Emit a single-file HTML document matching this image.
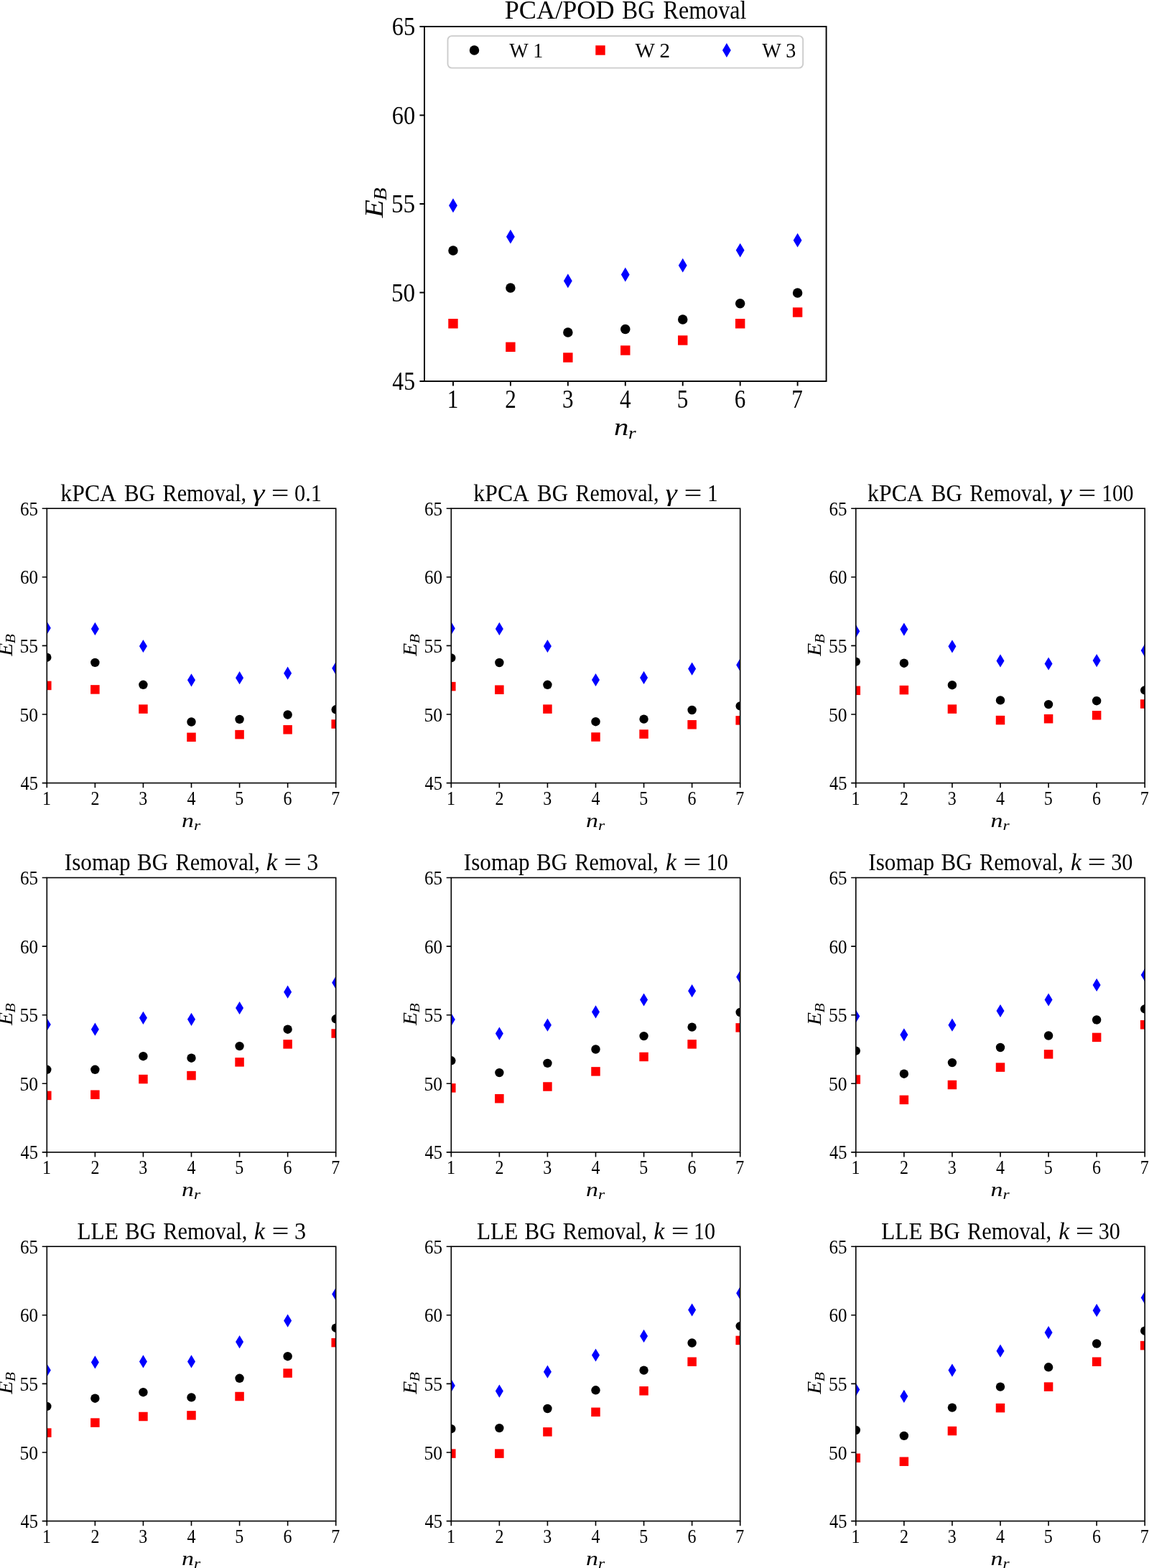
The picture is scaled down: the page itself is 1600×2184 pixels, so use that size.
<!DOCTYPE html>
<html><head><meta charset="utf-8"><title>BG Removal comparison</title>
<style>html,body{margin:0;padding:0;background:#fff;overflow:hidden;width:1600px;height:2184px;}svg{display:block;}</style>
</head><body>
<svg width="1600" height="2184" viewBox="0 0 1600 2184">
<rect width="100%" height="100%" fill="#ffffff"/>
<defs><clipPath id="ct"><rect x="591" y="37" width="559.6" height="494"/></clipPath><clipPath id="c00"><rect x="65.3" y="708.2" width="402.4" height="382.4"/></clipPath><clipPath id="c01"><rect x="628.3" y="708.2" width="402.4" height="382.4"/></clipPath><clipPath id="c02"><rect x="1191.8" y="708.2" width="402.4" height="382.4"/></clipPath><clipPath id="c10"><rect x="65.3" y="1222.5" width="402.4" height="382.4"/></clipPath><clipPath id="c11"><rect x="628.3" y="1222.5" width="402.4" height="382.4"/></clipPath><clipPath id="c12"><rect x="1191.8" y="1222.5" width="402.4" height="382.4"/></clipPath><clipPath id="c20"><rect x="65.3" y="1736.2" width="402.4" height="382.4"/></clipPath><clipPath id="c21"><rect x="628.3" y="1736.2" width="402.4" height="382.4"/></clipPath><clipPath id="c22"><rect x="1191.8" y="1736.2" width="402.4" height="382.4"/></clipPath></defs>
<g font-family="'Liberation Serif', 'DejaVu Serif', serif" fill="#000">
<g clip-path="url(#ct)">
<g fill="#000000"><circle cx="630.97" cy="348.9" r="6.75"/><circle cx="710.91" cy="401" r="6.75"/><circle cx="790.86" cy="463" r="6.75"/><circle cx="870.8" cy="458.6" r="6.75"/><circle cx="950.74" cy="445" r="6.75"/><circle cx="1030.69" cy="422.75" r="6.75"/><circle cx="1110.63" cy="407.9" r="6.75"/></g>
<g fill="#ff0000"><rect x="624.27" y="444.05" width="13.4" height="13.4"/><rect x="704.21" y="476.6" width="13.4" height="13.4"/><rect x="784.16" y="491.3" width="13.4" height="13.4"/><rect x="864.1" y="481.3" width="13.4" height="13.4"/><rect x="944.04" y="467.3" width="13.4" height="13.4"/><rect x="1023.99" y="444.05" width="13.4" height="13.4"/><rect x="1103.93" y="428.3" width="13.4" height="13.4"/></g>
<g fill="#0000ff"><path d="M630.97 276.35L636.87 286.25L630.97 296.15L625.07 286.25Z"/><path d="M710.91 319.75L716.81 329.65L710.91 339.55L705.01 329.65Z"/><path d="M790.86 381.35L796.76 391.25L790.86 401.15L784.96 391.25Z"/><path d="M870.8 372.6L876.7 382.5L870.8 392.4L864.9 382.5Z"/><path d="M950.74 359.8L956.64 369.7L950.74 379.6L944.84 369.7Z"/><path d="M1030.69 338.65L1036.59 348.55L1030.69 358.45L1024.79 348.55Z"/><path d="M1110.63 324.8L1116.53 334.7L1110.63 344.6L1104.73 334.7Z"/></g>
</g>
<rect x="623.5" y="50.1" width="494.7" height="44.5" rx="5.5" ry="5.5" fill="#fff" fill-opacity="0.8" stroke="#cccccc" stroke-width="1.9"/>
<g fill="#000000"><circle cx="660.5" cy="70" r="6.75"/></g>
<g fill="#ff0000"><rect x="829.3" y="63.3" width="13.4" height="13.4"/></g>
<g fill="#0000ff"><path d="M1011.9 60.1L1017.8 70L1011.9 79.9L1006 70Z"/></g>
<text x="709.25" y="79.8" font-size="29" textLength="47.07" lengthAdjust="spacingAndGlyphs">W 1</text>
<text x="884.4" y="79.8" font-size="29" textLength="48.72" lengthAdjust="spacingAndGlyphs">W 2</text>
<text x="1061.2" y="79.8" font-size="29" textLength="47.11" lengthAdjust="spacingAndGlyphs">W 3</text>
<rect x="591" y="37" width="559.6" height="494" fill="none" stroke="#000" stroke-width="1.9" stroke-linejoin="miter" stroke-linecap="square"/>
<path d="M630.97 531V537.6M710.91 531V537.6M790.86 531V537.6M870.8 531V537.6M950.74 531V537.6M1030.69 531V537.6M1110.63 531V537.6M591 531H584.4M591 407.5H584.4M591 284H584.4M591 160.5H584.4M591 37H584.4" stroke="#000" stroke-width="1.9" fill="none"/>
<text x="622.72" y="567.8" font-size="35" textLength="15.57" lengthAdjust="spacingAndGlyphs">1</text>
<text x="703.28" y="567.8" font-size="35" textLength="15.58" lengthAdjust="spacingAndGlyphs">2</text>
<text x="782.91" y="567.8" font-size="35" textLength="15.58" lengthAdjust="spacingAndGlyphs">3</text>
<text x="863.01" y="567.8" font-size="35" textLength="15.57" lengthAdjust="spacingAndGlyphs">4</text>
<text x="942.64" y="567.8" font-size="35" textLength="15.58" lengthAdjust="spacingAndGlyphs">5</text>
<text x="1022.74" y="567.8" font-size="35" textLength="15.57" lengthAdjust="spacingAndGlyphs">6</text>
<text x="1102.22" y="567.8" font-size="35" textLength="15.58" lengthAdjust="spacingAndGlyphs">7</text>
<text x="546.37" y="543.4" font-size="35" textLength="31.7" lengthAdjust="spacingAndGlyphs">45</text>
<text x="545.01" y="419.9" font-size="35" textLength="33.11" lengthAdjust="spacingAndGlyphs">50</text>
<text x="545.01" y="296.4" font-size="35" textLength="33.11" lengthAdjust="spacingAndGlyphs">55</text>
<text x="545.7" y="172.9" font-size="35" textLength="32.39" lengthAdjust="spacingAndGlyphs">60</text>
<text x="545.7" y="49.4" font-size="35" textLength="32.39" lengthAdjust="spacingAndGlyphs">65</text>
<text x="702.76" y="25.9" font-size="36" textLength="152.82" lengthAdjust="spacingAndGlyphs">PCA/POD</text>
<text x="866.21" y="25.9" font-size="36" textLength="45.75" lengthAdjust="spacingAndGlyphs">BG</text>
<text x="923.54" y="25.9" font-size="36" textLength="115.82" lengthAdjust="spacingAndGlyphs">Removal</text>
<text x="854.97" y="605.6" font-size="33.2" textLength="20.42" lengthAdjust="spacingAndGlyphs" font-style="italic">n</text>
<text x="874.9" y="610.6" font-size="23.8" textLength="10.68" lengthAdjust="spacingAndGlyphs" font-style="italic">r</text>
<text x="0" y="0" transform="translate(533,303.34) rotate(-90)" font-size="36.6" textLength="25.2" lengthAdjust="spacingAndGlyphs" font-style="italic">E</text>
<text x="0" y="0" transform="translate(538,279.29) rotate(-90)" font-size="26" textLength="17.91" lengthAdjust="spacingAndGlyphs" font-style="italic">B</text>
<g clip-path="url(#c00)">
<g fill="#000000"><circle cx="65.3" cy="915.7" r="6.2"/><circle cx="132.37" cy="922.9" r="6.2"/><circle cx="199.43" cy="953.8" r="6.2"/><circle cx="266.5" cy="1005.5" r="6.2"/><circle cx="333.57" cy="1001.9" r="6.2"/><circle cx="400.63" cy="995.5" r="6.2"/><circle cx="467.7" cy="988.3" r="6.2"/></g>
<g fill="#ff0000"><rect x="59.05" y="948.65" width="12.5" height="12.5"/><rect x="126.12" y="954.15" width="12.5" height="12.5"/><rect x="193.18" y="981.35" width="12.5" height="12.5"/><rect x="260.25" y="1020.55" width="12.5" height="12.5"/><rect x="327.32" y="1016.85" width="12.5" height="12.5"/><rect x="394.38" y="1010.05" width="12.5" height="12.5"/><rect x="461.45" y="1002.25" width="12.5" height="12.5"/></g>
<g fill="#0000ff"><path d="M65.3 865.6L70.8 874.7L65.3 883.8L59.8 874.7Z"/><path d="M132.37 866.8L137.87 875.9L132.37 885L126.87 875.9Z"/><path d="M199.43 890.9L204.93 900L199.43 909.1L193.93 900Z"/><path d="M266.5 938.2L272 947.3L266.5 956.4L261 947.3Z"/><path d="M333.57 935.05L339.07 944.15L333.57 953.25L328.07 944.15Z"/><path d="M400.63 928.6L406.13 937.7L400.63 946.8L395.13 937.7Z"/><path d="M467.7 921.7L473.2 930.8L467.7 939.9L462.2 930.8Z"/></g>
</g>
<rect x="65.3" y="708.2" width="402.4" height="382.4" fill="none" stroke="#000" stroke-width="1.6" stroke-linejoin="miter" stroke-linecap="square"/>
<path d="M65.3 1090.6V1097.2M132.37 1090.6V1097.2M199.43 1090.6V1097.2M266.5 1090.6V1097.2M333.57 1090.6V1097.2M400.63 1090.6V1097.2M467.7 1090.6V1097.2M65.3 1090.6H58.7M65.3 995H58.7M65.3 899.4H58.7M65.3 803.8H58.7M65.3 708.2H58.7" stroke="#000" stroke-width="1.6" fill="none"/>
<text x="58.93" y="1120.5" font-size="26.4" textLength="12.01" lengthAdjust="spacingAndGlyphs">1</text>
<text x="126.48" y="1120.5" font-size="26.4" textLength="12.01" lengthAdjust="spacingAndGlyphs">2</text>
<text x="193.31" y="1120.5" font-size="26.4" textLength="12.01" lengthAdjust="spacingAndGlyphs">3</text>
<text x="260.49" y="1120.5" font-size="26.4" textLength="12.01" lengthAdjust="spacingAndGlyphs">4</text>
<text x="327.32" y="1120.5" font-size="26.4" textLength="12.01" lengthAdjust="spacingAndGlyphs">5</text>
<text x="394.51" y="1120.5" font-size="26.4" textLength="12.01" lengthAdjust="spacingAndGlyphs">6</text>
<text x="461.21" y="1120.5" font-size="26.4" textLength="12.01" lengthAdjust="spacingAndGlyphs">7</text>
<text x="28.61" y="1100.1" font-size="26.4" textLength="24.47" lengthAdjust="spacingAndGlyphs">45</text>
<text x="27.57" y="1004.5" font-size="26.4" textLength="25.56" lengthAdjust="spacingAndGlyphs">50</text>
<text x="27.57" y="908.9" font-size="26.4" textLength="25.56" lengthAdjust="spacingAndGlyphs">55</text>
<text x="28.1" y="813.3" font-size="26.4" textLength="25" lengthAdjust="spacingAndGlyphs">60</text>
<text x="28.1" y="717.7" font-size="26.4" textLength="25" lengthAdjust="spacingAndGlyphs">65</text>
<text x="84.36" y="697.85" font-size="33.2" textLength="77.7" lengthAdjust="spacingAndGlyphs">kPCA</text>
<text x="173.07" y="697.85" font-size="33.2" textLength="43.03" lengthAdjust="spacingAndGlyphs">BG</text>
<text x="226.59" y="697.85" font-size="33.2" textLength="116.48" lengthAdjust="spacingAndGlyphs">Removal,</text>
<text x="351.65" y="697.85" font-size="33.2" textLength="16.65" lengthAdjust="spacingAndGlyphs" font-style="italic">γ</text>
<text x="377.81" y="697.85" font-size="33.2" textLength="24.72" lengthAdjust="spacingAndGlyphs">=</text>
<text x="410.03" y="697.85" font-size="33.2" textLength="38.04" lengthAdjust="spacingAndGlyphs">0.1</text>
<text x="253.09" y="1151.75" font-size="27.1" textLength="16.96" lengthAdjust="spacingAndGlyphs" font-style="italic">n</text>
<text x="270.01" y="1155.75" font-size="19.1" textLength="9.17" lengthAdjust="spacingAndGlyphs" font-style="italic">r</text>
<text x="0" y="0" transform="translate(16.8,913.7) rotate(-90)" font-size="26.3" textLength="18.07" lengthAdjust="spacingAndGlyphs" font-style="italic">E</text>
<text x="0" y="0" transform="translate(21,896.22) rotate(-90)" font-size="19.8" textLength="13.17" lengthAdjust="spacingAndGlyphs" font-style="italic">B</text>
<g clip-path="url(#c01)">
<g fill="#000000"><circle cx="628.3" cy="916.4" r="6.2"/><circle cx="695.37" cy="923" r="6.2"/><circle cx="762.43" cy="953.8" r="6.2"/><circle cx="829.5" cy="1005.2" r="6.2"/><circle cx="896.57" cy="1001.6" r="6.2"/><circle cx="963.63" cy="989" r="6.2"/><circle cx="1030.7" cy="983.4" r="6.2"/></g>
<g fill="#ff0000"><rect x="622.05" y="949.85" width="12.5" height="12.5"/><rect x="689.12" y="954.45" width="12.5" height="12.5"/><rect x="756.18" y="981.35" width="12.5" height="12.5"/><rect x="823.25" y="1020.25" width="12.5" height="12.5"/><rect x="890.32" y="1016.25" width="12.5" height="12.5"/><rect x="957.38" y="1003.05" width="12.5" height="12.5"/><rect x="1024.45" y="997.15" width="12.5" height="12.5"/></g>
<g fill="#0000ff"><path d="M628.3 866.1L633.8 875.2L628.3 884.3L622.8 875.2Z"/><path d="M695.37 866.8L700.87 875.9L695.37 885L689.87 875.9Z"/><path d="M762.43 890.9L767.93 900L762.43 909.1L756.93 900Z"/><path d="M829.5 937.9L835 947L829.5 956.1L824 947Z"/><path d="M896.57 934.8L902.07 943.9L896.57 953L891.07 943.9Z"/><path d="M963.63 922.5L969.13 931.6L963.63 940.7L958.13 931.6Z"/><path d="M1030.7 917.1L1036.2 926.2L1030.7 935.3L1025.2 926.2Z"/></g>
</g>
<rect x="628.3" y="708.2" width="402.4" height="382.4" fill="none" stroke="#000" stroke-width="1.6" stroke-linejoin="miter" stroke-linecap="square"/>
<path d="M628.3 1090.6V1097.2M695.37 1090.6V1097.2M762.43 1090.6V1097.2M829.5 1090.6V1097.2M896.57 1090.6V1097.2M963.63 1090.6V1097.2M1030.7 1090.6V1097.2M628.3 1090.6H621.7M628.3 995H621.7M628.3 899.4H621.7M628.3 803.8H621.7M628.3 708.2H621.7" stroke="#000" stroke-width="1.6" fill="none"/>
<text x="621.93" y="1120.5" font-size="26.4" textLength="12.01" lengthAdjust="spacingAndGlyphs">1</text>
<text x="689.48" y="1120.5" font-size="26.4" textLength="12.01" lengthAdjust="spacingAndGlyphs">2</text>
<text x="756.31" y="1120.5" font-size="26.4" textLength="12.01" lengthAdjust="spacingAndGlyphs">3</text>
<text x="823.49" y="1120.5" font-size="26.4" textLength="12.01" lengthAdjust="spacingAndGlyphs">4</text>
<text x="890.32" y="1120.5" font-size="26.4" textLength="12.01" lengthAdjust="spacingAndGlyphs">5</text>
<text x="957.51" y="1120.5" font-size="26.4" textLength="12.01" lengthAdjust="spacingAndGlyphs">6</text>
<text x="1024.21" y="1120.5" font-size="26.4" textLength="12.01" lengthAdjust="spacingAndGlyphs">7</text>
<text x="591.61" y="1100.1" font-size="26.4" textLength="24.47" lengthAdjust="spacingAndGlyphs">45</text>
<text x="590.57" y="1004.5" font-size="26.4" textLength="25.56" lengthAdjust="spacingAndGlyphs">50</text>
<text x="590.57" y="908.9" font-size="26.4" textLength="25.56" lengthAdjust="spacingAndGlyphs">55</text>
<text x="591.1" y="813.3" font-size="26.4" textLength="25" lengthAdjust="spacingAndGlyphs">60</text>
<text x="591.1" y="717.7" font-size="26.4" textLength="25" lengthAdjust="spacingAndGlyphs">65</text>
<text x="659.36" y="697.85" font-size="33.2" textLength="77.7" lengthAdjust="spacingAndGlyphs">kPCA</text>
<text x="748.07" y="697.85" font-size="33.2" textLength="43.03" lengthAdjust="spacingAndGlyphs">BG</text>
<text x="801.6" y="697.85" font-size="33.2" textLength="115.81" lengthAdjust="spacingAndGlyphs">Removal,</text>
<text x="926.69" y="697.85" font-size="33.2" textLength="16.01" lengthAdjust="spacingAndGlyphs" font-style="italic">γ</text>
<text x="952.53" y="697.85" font-size="33.2" textLength="25.02" lengthAdjust="spacingAndGlyphs">=</text>
<text x="985.09" y="697.85" font-size="33.2" textLength="14.79" lengthAdjust="spacingAndGlyphs">1</text>
<text x="816.09" y="1151.75" font-size="27.1" textLength="16.96" lengthAdjust="spacingAndGlyphs" font-style="italic">n</text>
<text x="833.01" y="1155.75" font-size="19.1" textLength="9.17" lengthAdjust="spacingAndGlyphs" font-style="italic">r</text>
<text x="0" y="0" transform="translate(579.8,913.7) rotate(-90)" font-size="26.3" textLength="18.07" lengthAdjust="spacingAndGlyphs" font-style="italic">E</text>
<text x="0" y="0" transform="translate(584,896.22) rotate(-90)" font-size="19.8" textLength="13.17" lengthAdjust="spacingAndGlyphs" font-style="italic">B</text>
<g clip-path="url(#c02)">
<g fill="#000000"><circle cx="1191.8" cy="921.6" r="6.2"/><circle cx="1258.87" cy="923.7" r="6.2"/><circle cx="1325.93" cy="954.2" r="6.2"/><circle cx="1393" cy="975.4" r="6.2"/><circle cx="1460.07" cy="981.1" r="6.2"/><circle cx="1527.13" cy="976.2" r="6.2"/><circle cx="1594.2" cy="961.4" r="6.2"/></g>
<g fill="#ff0000"><rect x="1185.55" y="955.55" width="12.5" height="12.5"/><rect x="1252.62" y="954.85" width="12.5" height="12.5"/><rect x="1319.68" y="981.35" width="12.5" height="12.5"/><rect x="1386.75" y="996.85" width="12.5" height="12.5"/><rect x="1453.82" y="994.95" width="12.5" height="12.5"/><rect x="1520.88" y="990.05" width="12.5" height="12.5"/><rect x="1587.95" y="974.25" width="12.5" height="12.5"/></g>
<g fill="#0000ff"><path d="M1191.8 870.1L1197.3 879.2L1191.8 888.3L1186.3 879.2Z"/><path d="M1258.87 867.5L1264.37 876.6L1258.87 885.7L1253.37 876.6Z"/><path d="M1325.93 891.2L1331.43 900.3L1325.93 909.4L1320.43 900.3Z"/><path d="M1393 911.3L1398.5 920.4L1393 929.5L1387.5 920.4Z"/><path d="M1460.07 915.4L1465.57 924.5L1460.07 933.6L1454.57 924.5Z"/><path d="M1527.13 911L1532.63 920.1L1527.13 929.2L1521.63 920.1Z"/><path d="M1594.2 897L1599.7 906.1L1594.2 915.2L1588.7 906.1Z"/></g>
</g>
<rect x="1191.8" y="708.2" width="402.4" height="382.4" fill="none" stroke="#000" stroke-width="1.6" stroke-linejoin="miter" stroke-linecap="square"/>
<path d="M1191.8 1090.6V1097.2M1258.87 1090.6V1097.2M1325.93 1090.6V1097.2M1393 1090.6V1097.2M1460.07 1090.6V1097.2M1527.13 1090.6V1097.2M1594.2 1090.6V1097.2M1191.8 1090.6H1185.2M1191.8 995H1185.2M1191.8 899.4H1185.2M1191.8 803.8H1185.2M1191.8 708.2H1185.2" stroke="#000" stroke-width="1.6" fill="none"/>
<text x="1185.43" y="1120.5" font-size="26.4" textLength="12.01" lengthAdjust="spacingAndGlyphs">1</text>
<text x="1252.98" y="1120.5" font-size="26.4" textLength="12.01" lengthAdjust="spacingAndGlyphs">2</text>
<text x="1319.81" y="1120.5" font-size="26.4" textLength="12.01" lengthAdjust="spacingAndGlyphs">3</text>
<text x="1386.99" y="1120.5" font-size="26.4" textLength="12.01" lengthAdjust="spacingAndGlyphs">4</text>
<text x="1453.82" y="1120.5" font-size="26.4" textLength="12.01" lengthAdjust="spacingAndGlyphs">5</text>
<text x="1521.01" y="1120.5" font-size="26.4" textLength="12.01" lengthAdjust="spacingAndGlyphs">6</text>
<text x="1587.71" y="1120.5" font-size="26.4" textLength="12.01" lengthAdjust="spacingAndGlyphs">7</text>
<text x="1155.11" y="1100.1" font-size="26.4" textLength="24.47" lengthAdjust="spacingAndGlyphs">45</text>
<text x="1154.07" y="1004.5" font-size="26.4" textLength="25.56" lengthAdjust="spacingAndGlyphs">50</text>
<text x="1154.07" y="908.9" font-size="26.4" textLength="25.56" lengthAdjust="spacingAndGlyphs">55</text>
<text x="1154.6" y="813.3" font-size="26.4" textLength="25" lengthAdjust="spacingAndGlyphs">60</text>
<text x="1154.6" y="717.7" font-size="26.4" textLength="25" lengthAdjust="spacingAndGlyphs">65</text>
<text x="1208.11" y="697.85" font-size="33.2" textLength="77.7" lengthAdjust="spacingAndGlyphs">kPCA</text>
<text x="1296.82" y="697.85" font-size="33.2" textLength="43.03" lengthAdjust="spacingAndGlyphs">BG</text>
<text x="1350.35" y="697.85" font-size="33.2" textLength="115.87" lengthAdjust="spacingAndGlyphs">Removal,</text>
<text x="1475.41" y="697.85" font-size="33.2" textLength="16.6" lengthAdjust="spacingAndGlyphs" font-style="italic">γ</text>
<text x="1501.55" y="697.85" font-size="33.2" textLength="24.78" lengthAdjust="spacingAndGlyphs">=</text>
<text x="1534.25" y="697.85" font-size="33.2" textLength="44.18" lengthAdjust="spacingAndGlyphs">100</text>
<text x="1379.59" y="1151.75" font-size="27.1" textLength="16.96" lengthAdjust="spacingAndGlyphs" font-style="italic">n</text>
<text x="1396.51" y="1155.75" font-size="19.1" textLength="9.17" lengthAdjust="spacingAndGlyphs" font-style="italic">r</text>
<text x="0" y="0" transform="translate(1143.3,913.7) rotate(-90)" font-size="26.3" textLength="18.07" lengthAdjust="spacingAndGlyphs" font-style="italic">E</text>
<text x="0" y="0" transform="translate(1147.5,896.22) rotate(-90)" font-size="19.8" textLength="13.17" lengthAdjust="spacingAndGlyphs" font-style="italic">B</text>
<g clip-path="url(#c10)">
<g fill="#000000"><circle cx="65.3" cy="1489.8" r="6.2"/><circle cx="132.37" cy="1489.8" r="6.2"/><circle cx="199.43" cy="1471.2" r="6.2"/><circle cx="266.5" cy="1473.7" r="6.2"/><circle cx="333.57" cy="1457.1" r="6.2"/><circle cx="400.63" cy="1433.7" r="6.2"/><circle cx="467.7" cy="1419.3" r="6.2"/></g>
<g fill="#ff0000"><rect x="59.05" y="1519.65" width="12.5" height="12.5"/><rect x="126.12" y="1518.45" width="12.5" height="12.5"/><rect x="193.18" y="1496.85" width="12.5" height="12.5"/><rect x="260.25" y="1491.85" width="12.5" height="12.5"/><rect x="327.32" y="1473.15" width="12.5" height="12.5"/><rect x="394.38" y="1448.15" width="12.5" height="12.5"/><rect x="461.45" y="1433.25" width="12.5" height="12.5"/></g>
<g fill="#0000ff"><path d="M65.3 1417.9L70.8 1427L65.3 1436.1L59.8 1427Z"/><path d="M132.37 1424.6L137.87 1433.7L132.37 1442.8L126.87 1433.7Z"/><path d="M199.43 1408.7L204.93 1417.8L199.43 1426.9L193.93 1417.8Z"/><path d="M266.5 1410.7L272 1419.8L266.5 1428.9L261 1419.8Z"/><path d="M333.57 1394.9L339.07 1404L333.57 1413.1L328.07 1404Z"/><path d="M400.63 1372.6L406.13 1381.7L400.63 1390.8L395.13 1381.7Z"/><path d="M467.7 1359.6L473.2 1368.7L467.7 1377.8L462.2 1368.7Z"/></g>
</g>
<rect x="65.3" y="1222.5" width="402.4" height="382.4" fill="none" stroke="#000" stroke-width="1.6" stroke-linejoin="miter" stroke-linecap="square"/>
<path d="M65.3 1604.9V1611.5M132.37 1604.9V1611.5M199.43 1604.9V1611.5M266.5 1604.9V1611.5M333.57 1604.9V1611.5M400.63 1604.9V1611.5M467.7 1604.9V1611.5M65.3 1604.9H58.7M65.3 1509.3H58.7M65.3 1413.7H58.7M65.3 1318.1H58.7M65.3 1222.5H58.7" stroke="#000" stroke-width="1.6" fill="none"/>
<text x="58.93" y="1634.8" font-size="26.4" textLength="12.01" lengthAdjust="spacingAndGlyphs">1</text>
<text x="126.48" y="1634.8" font-size="26.4" textLength="12.01" lengthAdjust="spacingAndGlyphs">2</text>
<text x="193.31" y="1634.8" font-size="26.4" textLength="12.01" lengthAdjust="spacingAndGlyphs">3</text>
<text x="260.49" y="1634.8" font-size="26.4" textLength="12.01" lengthAdjust="spacingAndGlyphs">4</text>
<text x="327.32" y="1634.8" font-size="26.4" textLength="12.01" lengthAdjust="spacingAndGlyphs">5</text>
<text x="394.51" y="1634.8" font-size="26.4" textLength="12.01" lengthAdjust="spacingAndGlyphs">6</text>
<text x="461.21" y="1634.8" font-size="26.4" textLength="12.01" lengthAdjust="spacingAndGlyphs">7</text>
<text x="28.61" y="1614.4" font-size="26.4" textLength="24.47" lengthAdjust="spacingAndGlyphs">45</text>
<text x="27.57" y="1518.8" font-size="26.4" textLength="25.56" lengthAdjust="spacingAndGlyphs">50</text>
<text x="27.57" y="1423.2" font-size="26.4" textLength="25.56" lengthAdjust="spacingAndGlyphs">55</text>
<text x="28.1" y="1327.6" font-size="26.4" textLength="25" lengthAdjust="spacingAndGlyphs">60</text>
<text x="28.1" y="1232" font-size="26.4" textLength="25" lengthAdjust="spacingAndGlyphs">65</text>
<text x="89.75" y="1212.15" font-size="33.2" textLength="91.91" lengthAdjust="spacingAndGlyphs">Isomap</text>
<text x="191.07" y="1212.15" font-size="33.2" textLength="43.09" lengthAdjust="spacingAndGlyphs">BG</text>
<text x="244.49" y="1212.15" font-size="33.2" textLength="117.35" lengthAdjust="spacingAndGlyphs">Removal,</text>
<text x="370.85" y="1212.15" font-size="33.2" textLength="15.49" lengthAdjust="spacingAndGlyphs" font-style="italic">k</text>
<text x="395.31" y="1212.15" font-size="33.2" textLength="24.72" lengthAdjust="spacingAndGlyphs">=</text>
<text x="427.15" y="1212.15" font-size="33.2" textLength="16.04" lengthAdjust="spacingAndGlyphs">3</text>
<text x="253.09" y="1666.05" font-size="27.1" textLength="16.96" lengthAdjust="spacingAndGlyphs" font-style="italic">n</text>
<text x="270.01" y="1670.05" font-size="19.1" textLength="9.17" lengthAdjust="spacingAndGlyphs" font-style="italic">r</text>
<text x="0" y="0" transform="translate(16.8,1428) rotate(-90)" font-size="26.3" textLength="18.07" lengthAdjust="spacingAndGlyphs" font-style="italic">E</text>
<text x="0" y="0" transform="translate(21,1410.52) rotate(-90)" font-size="19.8" textLength="13.17" lengthAdjust="spacingAndGlyphs" font-style="italic">B</text>
<g clip-path="url(#c11)">
<g fill="#000000"><circle cx="628.3" cy="1477.3" r="6.2"/><circle cx="695.37" cy="1494.1" r="6.2"/><circle cx="762.43" cy="1480.9" r="6.2"/><circle cx="829.5" cy="1461.5" r="6.2"/><circle cx="896.57" cy="1443.1" r="6.2"/><circle cx="963.63" cy="1430.6" r="6.2"/><circle cx="1030.7" cy="1410" r="6.2"/></g>
<g fill="#ff0000"><rect x="622.05" y="1509.15" width="12.5" height="12.5"/><rect x="689.12" y="1523.95" width="12.5" height="12.5"/><rect x="756.18" y="1507.25" width="12.5" height="12.5"/><rect x="823.25" y="1486.15" width="12.5" height="12.5"/><rect x="890.32" y="1465.75" width="12.5" height="12.5"/><rect x="957.38" y="1448.15" width="12.5" height="12.5"/><rect x="1024.45" y="1425.15" width="12.5" height="12.5"/></g>
<g fill="#0000ff"><path d="M628.3 1411L633.8 1420.1L628.3 1429.2L622.8 1420.1Z"/><path d="M695.37 1430.5L700.87 1439.6L695.37 1448.7L689.87 1439.6Z"/><path d="M762.43 1418.6L767.93 1427.7L762.43 1436.8L756.93 1427.7Z"/><path d="M829.5 1400.3L835 1409.4L829.5 1418.5L824 1409.4Z"/><path d="M896.57 1383.4L902.07 1392.5L896.57 1401.6L891.07 1392.5Z"/><path d="M963.63 1371.1L969.13 1380.2L963.63 1389.3L958.13 1380.2Z"/><path d="M1030.7 1351.7L1036.2 1360.8L1030.7 1369.9L1025.2 1360.8Z"/></g>
</g>
<rect x="628.3" y="1222.5" width="402.4" height="382.4" fill="none" stroke="#000" stroke-width="1.6" stroke-linejoin="miter" stroke-linecap="square"/>
<path d="M628.3 1604.9V1611.5M695.37 1604.9V1611.5M762.43 1604.9V1611.5M829.5 1604.9V1611.5M896.57 1604.9V1611.5M963.63 1604.9V1611.5M1030.7 1604.9V1611.5M628.3 1604.9H621.7M628.3 1509.3H621.7M628.3 1413.7H621.7M628.3 1318.1H621.7M628.3 1222.5H621.7" stroke="#000" stroke-width="1.6" fill="none"/>
<text x="621.93" y="1634.8" font-size="26.4" textLength="12.01" lengthAdjust="spacingAndGlyphs">1</text>
<text x="689.48" y="1634.8" font-size="26.4" textLength="12.01" lengthAdjust="spacingAndGlyphs">2</text>
<text x="756.31" y="1634.8" font-size="26.4" textLength="12.01" lengthAdjust="spacingAndGlyphs">3</text>
<text x="823.49" y="1634.8" font-size="26.4" textLength="12.01" lengthAdjust="spacingAndGlyphs">4</text>
<text x="890.32" y="1634.8" font-size="26.4" textLength="12.01" lengthAdjust="spacingAndGlyphs">5</text>
<text x="957.51" y="1634.8" font-size="26.4" textLength="12.01" lengthAdjust="spacingAndGlyphs">6</text>
<text x="1024.21" y="1634.8" font-size="26.4" textLength="12.01" lengthAdjust="spacingAndGlyphs">7</text>
<text x="591.61" y="1614.4" font-size="26.4" textLength="24.47" lengthAdjust="spacingAndGlyphs">45</text>
<text x="590.57" y="1518.8" font-size="26.4" textLength="25.56" lengthAdjust="spacingAndGlyphs">50</text>
<text x="590.57" y="1423.2" font-size="26.4" textLength="25.56" lengthAdjust="spacingAndGlyphs">55</text>
<text x="591.1" y="1327.6" font-size="26.4" textLength="25" lengthAdjust="spacingAndGlyphs">60</text>
<text x="591.1" y="1232" font-size="26.4" textLength="25" lengthAdjust="spacingAndGlyphs">65</text>
<text x="645.75" y="1212.15" font-size="33.2" textLength="91.91" lengthAdjust="spacingAndGlyphs">Isomap</text>
<text x="747.07" y="1212.15" font-size="33.2" textLength="43.09" lengthAdjust="spacingAndGlyphs">BG</text>
<text x="800.5" y="1212.15" font-size="33.2" textLength="116.33" lengthAdjust="spacingAndGlyphs">Removal,</text>
<text x="927.1" y="1212.15" font-size="33.2" textLength="14.87" lengthAdjust="spacingAndGlyphs" font-style="italic">k</text>
<text x="951.55" y="1212.15" font-size="33.2" textLength="24.78" lengthAdjust="spacingAndGlyphs">=</text>
<text x="983.78" y="1212.15" font-size="33.2" textLength="30.17" lengthAdjust="spacingAndGlyphs">10</text>
<text x="816.09" y="1666.05" font-size="27.1" textLength="16.96" lengthAdjust="spacingAndGlyphs" font-style="italic">n</text>
<text x="833.01" y="1670.05" font-size="19.1" textLength="9.17" lengthAdjust="spacingAndGlyphs" font-style="italic">r</text>
<text x="0" y="0" transform="translate(579.8,1428) rotate(-90)" font-size="26.3" textLength="18.07" lengthAdjust="spacingAndGlyphs" font-style="italic">E</text>
<text x="0" y="0" transform="translate(584,1410.52) rotate(-90)" font-size="19.8" textLength="13.17" lengthAdjust="spacingAndGlyphs" font-style="italic">B</text>
<g clip-path="url(#c12)">
<g fill="#000000"><circle cx="1191.8" cy="1463.6" r="6.2"/><circle cx="1258.87" cy="1495.7" r="6.2"/><circle cx="1325.93" cy="1480.1" r="6.2"/><circle cx="1393" cy="1459" r="6.2"/><circle cx="1460.07" cy="1442.5" r="6.2"/><circle cx="1527.13" cy="1420.5" r="6.2"/><circle cx="1594.2" cy="1405.4" r="6.2"/></g>
<g fill="#ff0000"><rect x="1185.55" y="1497.35" width="12.5" height="12.5"/><rect x="1252.62" y="1525.65" width="12.5" height="12.5"/><rect x="1319.68" y="1504.75" width="12.5" height="12.5"/><rect x="1386.75" y="1480.35" width="12.5" height="12.5"/><rect x="1453.82" y="1462.15" width="12.5" height="12.5"/><rect x="1520.88" y="1438.65" width="12.5" height="12.5"/><rect x="1587.95" y="1421.05" width="12.5" height="12.5"/></g>
<g fill="#0000ff"><path d="M1191.8 1406.4L1197.3 1415.5L1191.8 1424.6L1186.3 1415.5Z"/><path d="M1258.87 1432.2L1264.37 1441.3L1258.87 1450.4L1253.37 1441.3Z"/><path d="M1325.93 1418.6L1331.43 1427.7L1325.93 1436.8L1320.43 1427.7Z"/><path d="M1393 1398.9L1398.5 1408L1393 1417.1L1387.5 1408Z"/><path d="M1460.07 1383.4L1465.57 1392.5L1460.07 1401.6L1454.57 1392.5Z"/><path d="M1527.13 1362.8L1532.63 1371.9L1527.13 1381L1521.63 1371.9Z"/><path d="M1594.2 1348.9L1599.7 1358L1594.2 1367.1L1588.7 1358Z"/></g>
</g>
<rect x="1191.8" y="1222.5" width="402.4" height="382.4" fill="none" stroke="#000" stroke-width="1.6" stroke-linejoin="miter" stroke-linecap="square"/>
<path d="M1191.8 1604.9V1611.5M1258.87 1604.9V1611.5M1325.93 1604.9V1611.5M1393 1604.9V1611.5M1460.07 1604.9V1611.5M1527.13 1604.9V1611.5M1594.2 1604.9V1611.5M1191.8 1604.9H1185.2M1191.8 1509.3H1185.2M1191.8 1413.7H1185.2M1191.8 1318.1H1185.2M1191.8 1222.5H1185.2" stroke="#000" stroke-width="1.6" fill="none"/>
<text x="1185.43" y="1634.8" font-size="26.4" textLength="12.01" lengthAdjust="spacingAndGlyphs">1</text>
<text x="1252.98" y="1634.8" font-size="26.4" textLength="12.01" lengthAdjust="spacingAndGlyphs">2</text>
<text x="1319.81" y="1634.8" font-size="26.4" textLength="12.01" lengthAdjust="spacingAndGlyphs">3</text>
<text x="1386.99" y="1634.8" font-size="26.4" textLength="12.01" lengthAdjust="spacingAndGlyphs">4</text>
<text x="1453.82" y="1634.8" font-size="26.4" textLength="12.01" lengthAdjust="spacingAndGlyphs">5</text>
<text x="1521.01" y="1634.8" font-size="26.4" textLength="12.01" lengthAdjust="spacingAndGlyphs">6</text>
<text x="1587.71" y="1634.8" font-size="26.4" textLength="12.01" lengthAdjust="spacingAndGlyphs">7</text>
<text x="1155.11" y="1614.4" font-size="26.4" textLength="24.47" lengthAdjust="spacingAndGlyphs">45</text>
<text x="1154.07" y="1518.8" font-size="26.4" textLength="25.56" lengthAdjust="spacingAndGlyphs">50</text>
<text x="1154.07" y="1423.2" font-size="26.4" textLength="25.56" lengthAdjust="spacingAndGlyphs">55</text>
<text x="1154.6" y="1327.6" font-size="26.4" textLength="25" lengthAdjust="spacingAndGlyphs">60</text>
<text x="1154.6" y="1232" font-size="26.4" textLength="25" lengthAdjust="spacingAndGlyphs">65</text>
<text x="1209.25" y="1212.15" font-size="33.2" textLength="91.91" lengthAdjust="spacingAndGlyphs">Isomap</text>
<text x="1310.57" y="1212.15" font-size="33.2" textLength="43.09" lengthAdjust="spacingAndGlyphs">BG</text>
<text x="1363.99" y="1212.15" font-size="33.2" textLength="116.84" lengthAdjust="spacingAndGlyphs">Removal,</text>
<text x="1490.9" y="1212.15" font-size="33.2" textLength="14.81" lengthAdjust="spacingAndGlyphs" font-style="italic">k</text>
<text x="1514.64" y="1212.15" font-size="33.2" textLength="25.44" lengthAdjust="spacingAndGlyphs">=</text>
<text x="1547.24" y="1212.15" font-size="33.2" textLength="30.22" lengthAdjust="spacingAndGlyphs">30</text>
<text x="1379.59" y="1666.05" font-size="27.1" textLength="16.96" lengthAdjust="spacingAndGlyphs" font-style="italic">n</text>
<text x="1396.51" y="1670.05" font-size="19.1" textLength="9.17" lengthAdjust="spacingAndGlyphs" font-style="italic">r</text>
<text x="0" y="0" transform="translate(1143.3,1428) rotate(-90)" font-size="26.3" textLength="18.07" lengthAdjust="spacingAndGlyphs" font-style="italic">E</text>
<text x="0" y="0" transform="translate(1147.5,1410.52) rotate(-90)" font-size="19.8" textLength="13.17" lengthAdjust="spacingAndGlyphs" font-style="italic">B</text>
<g clip-path="url(#c20)">
<g fill="#000000"><circle cx="65.3" cy="1958.9" r="6.2"/><circle cx="132.37" cy="1947.7" r="6.2"/><circle cx="199.43" cy="1939.2" r="6.2"/><circle cx="266.5" cy="1946.4" r="6.2"/><circle cx="333.57" cy="1919.8" r="6.2"/><circle cx="400.63" cy="1889.2" r="6.2"/><circle cx="467.7" cy="1849.7" r="6.2"/></g>
<g fill="#ff0000"><rect x="59.05" y="1989.35" width="12.5" height="12.5"/><rect x="126.12" y="1975.35" width="12.5" height="12.5"/><rect x="193.18" y="1966.75" width="12.5" height="12.5"/><rect x="260.25" y="1965.15" width="12.5" height="12.5"/><rect x="327.32" y="1938.75" width="12.5" height="12.5"/><rect x="394.38" y="1906.35" width="12.5" height="12.5"/><rect x="461.45" y="1863.85" width="12.5" height="12.5"/></g>
<g fill="#0000ff"><path d="M65.3 1899.5L70.8 1908.6L65.3 1917.7L59.8 1908.6Z"/><path d="M132.37 1888.3L137.87 1897.4L132.37 1906.5L126.87 1897.4Z"/><path d="M199.43 1887.3L204.93 1896.4L199.43 1905.5L193.93 1896.4Z"/><path d="M266.5 1887.3L272 1896.4L266.5 1905.5L261 1896.4Z"/><path d="M333.57 1860L339.07 1869.1L333.57 1878.2L328.07 1869.1Z"/><path d="M400.63 1830.5L406.13 1839.6L400.63 1848.7L395.13 1839.6Z"/><path d="M467.7 1793.5L473.2 1802.6L467.7 1811.7L462.2 1802.6Z"/></g>
</g>
<rect x="65.3" y="1736.2" width="402.4" height="382.4" fill="none" stroke="#000" stroke-width="1.6" stroke-linejoin="miter" stroke-linecap="square"/>
<path d="M65.3 2118.6V2125.2M132.37 2118.6V2125.2M199.43 2118.6V2125.2M266.5 2118.6V2125.2M333.57 2118.6V2125.2M400.63 2118.6V2125.2M467.7 2118.6V2125.2M65.3 2118.6H58.7M65.3 2023H58.7M65.3 1927.4H58.7M65.3 1831.8H58.7M65.3 1736.2H58.7" stroke="#000" stroke-width="1.6" fill="none"/>
<text x="58.93" y="2148.5" font-size="26.4" textLength="12.01" lengthAdjust="spacingAndGlyphs">1</text>
<text x="126.48" y="2148.5" font-size="26.4" textLength="12.01" lengthAdjust="spacingAndGlyphs">2</text>
<text x="193.31" y="2148.5" font-size="26.4" textLength="12.01" lengthAdjust="spacingAndGlyphs">3</text>
<text x="260.49" y="2148.5" font-size="26.4" textLength="12.01" lengthAdjust="spacingAndGlyphs">4</text>
<text x="327.32" y="2148.5" font-size="26.4" textLength="12.01" lengthAdjust="spacingAndGlyphs">5</text>
<text x="394.51" y="2148.5" font-size="26.4" textLength="12.01" lengthAdjust="spacingAndGlyphs">6</text>
<text x="461.21" y="2148.5" font-size="26.4" textLength="12.01" lengthAdjust="spacingAndGlyphs">7</text>
<text x="28.61" y="2128.1" font-size="26.4" textLength="24.47" lengthAdjust="spacingAndGlyphs">45</text>
<text x="27.57" y="2032.5" font-size="26.4" textLength="25.56" lengthAdjust="spacingAndGlyphs">50</text>
<text x="27.57" y="1936.9" font-size="26.4" textLength="25.56" lengthAdjust="spacingAndGlyphs">55</text>
<text x="28.1" y="1841.3" font-size="26.4" textLength="25" lengthAdjust="spacingAndGlyphs">60</text>
<text x="28.1" y="1745.7" font-size="26.4" textLength="25" lengthAdjust="spacingAndGlyphs">65</text>
<text x="107.56" y="1725.85" font-size="33.2" textLength="57.18" lengthAdjust="spacingAndGlyphs">LLE</text>
<text x="174.07" y="1725.85" font-size="33.2" textLength="43.09" lengthAdjust="spacingAndGlyphs">BG</text>
<text x="227.19" y="1725.85" font-size="33.2" textLength="117.15" lengthAdjust="spacingAndGlyphs">Removal,</text>
<text x="353.73" y="1725.85" font-size="33.2" textLength="15.12" lengthAdjust="spacingAndGlyphs" font-style="italic">k</text>
<text x="378.47" y="1725.85" font-size="33.2" textLength="24" lengthAdjust="spacingAndGlyphs">=</text>
<text x="409.88" y="1725.85" font-size="33.2" textLength="16.16" lengthAdjust="spacingAndGlyphs">3</text>
<text x="253.09" y="2179.75" font-size="27.1" textLength="16.96" lengthAdjust="spacingAndGlyphs" font-style="italic">n</text>
<text x="270.01" y="2183.75" font-size="19.1" textLength="9.17" lengthAdjust="spacingAndGlyphs" font-style="italic">r</text>
<text x="0" y="0" transform="translate(16.8,1941.7) rotate(-90)" font-size="26.3" textLength="18.07" lengthAdjust="spacingAndGlyphs" font-style="italic">E</text>
<text x="0" y="0" transform="translate(21,1924.22) rotate(-90)" font-size="19.8" textLength="13.17" lengthAdjust="spacingAndGlyphs" font-style="italic">B</text>
<g clip-path="url(#c21)">
<g fill="#000000"><circle cx="628.3" cy="1990.2" r="6.2"/><circle cx="695.37" cy="1989.1" r="6.2"/><circle cx="762.43" cy="1962" r="6.2"/><circle cx="829.5" cy="1936.3" r="6.2"/><circle cx="896.57" cy="1908.6" r="6.2"/><circle cx="963.63" cy="1870.5" r="6.2"/><circle cx="1030.7" cy="1847.1" r="6.2"/></g>
<g fill="#ff0000"><rect x="622.05" y="2018.35" width="12.5" height="12.5"/><rect x="689.12" y="2018.35" width="12.5" height="12.5"/><rect x="756.18" y="1988.15" width="12.5" height="12.5"/><rect x="823.25" y="1960.55" width="12.5" height="12.5"/><rect x="890.32" y="1931.05" width="12.5" height="12.5"/><rect x="957.38" y="1890.45" width="12.5" height="12.5"/><rect x="1024.45" y="1860.65" width="12.5" height="12.5"/></g>
<g fill="#0000ff"><path d="M628.3 1920.8L633.8 1929.9L628.3 1939L622.8 1929.9Z"/><path d="M695.37 1928.5L700.87 1937.6L695.37 1946.7L689.87 1937.6Z"/><path d="M762.43 1901.6L767.93 1910.7L762.43 1919.8L756.93 1910.7Z"/><path d="M829.5 1878.4L835 1887.5L829.5 1896.6L824 1887.5Z"/><path d="M896.57 1851.8L902.07 1860.9L896.57 1870L891.07 1860.9Z"/><path d="M963.63 1815.4L969.13 1824.5L963.63 1833.6L958.13 1824.5Z"/><path d="M1030.7 1792.1L1036.2 1801.2L1030.7 1810.3L1025.2 1801.2Z"/></g>
</g>
<rect x="628.3" y="1736.2" width="402.4" height="382.4" fill="none" stroke="#000" stroke-width="1.6" stroke-linejoin="miter" stroke-linecap="square"/>
<path d="M628.3 2118.6V2125.2M695.37 2118.6V2125.2M762.43 2118.6V2125.2M829.5 2118.6V2125.2M896.57 2118.6V2125.2M963.63 2118.6V2125.2M1030.7 2118.6V2125.2M628.3 2118.6H621.7M628.3 2023H621.7M628.3 1927.4H621.7M628.3 1831.8H621.7M628.3 1736.2H621.7" stroke="#000" stroke-width="1.6" fill="none"/>
<text x="621.93" y="2148.5" font-size="26.4" textLength="12.01" lengthAdjust="spacingAndGlyphs">1</text>
<text x="689.48" y="2148.5" font-size="26.4" textLength="12.01" lengthAdjust="spacingAndGlyphs">2</text>
<text x="756.31" y="2148.5" font-size="26.4" textLength="12.01" lengthAdjust="spacingAndGlyphs">3</text>
<text x="823.49" y="2148.5" font-size="26.4" textLength="12.01" lengthAdjust="spacingAndGlyphs">4</text>
<text x="890.32" y="2148.5" font-size="26.4" textLength="12.01" lengthAdjust="spacingAndGlyphs">5</text>
<text x="957.51" y="2148.5" font-size="26.4" textLength="12.01" lengthAdjust="spacingAndGlyphs">6</text>
<text x="1024.21" y="2148.5" font-size="26.4" textLength="12.01" lengthAdjust="spacingAndGlyphs">7</text>
<text x="591.61" y="2128.1" font-size="26.4" textLength="24.47" lengthAdjust="spacingAndGlyphs">45</text>
<text x="590.57" y="2032.5" font-size="26.4" textLength="25.56" lengthAdjust="spacingAndGlyphs">50</text>
<text x="590.57" y="1936.9" font-size="26.4" textLength="25.56" lengthAdjust="spacingAndGlyphs">55</text>
<text x="591.1" y="1841.3" font-size="26.4" textLength="25" lengthAdjust="spacingAndGlyphs">60</text>
<text x="591.1" y="1745.7" font-size="26.4" textLength="25" lengthAdjust="spacingAndGlyphs">65</text>
<text x="664.06" y="1725.85" font-size="33.2" textLength="57.18" lengthAdjust="spacingAndGlyphs">LLE</text>
<text x="730.57" y="1725.85" font-size="33.2" textLength="43.09" lengthAdjust="spacingAndGlyphs">BG</text>
<text x="783.69" y="1725.85" font-size="33.2" textLength="117.15" lengthAdjust="spacingAndGlyphs">Removal,</text>
<text x="910.23" y="1725.85" font-size="33.2" textLength="15.12" lengthAdjust="spacingAndGlyphs" font-style="italic">k</text>
<text x="934.81" y="1725.85" font-size="33.2" textLength="24.72" lengthAdjust="spacingAndGlyphs">=</text>
<text x="966.03" y="1725.85" font-size="33.2" textLength="30.17" lengthAdjust="spacingAndGlyphs">10</text>
<text x="816.09" y="2179.75" font-size="27.1" textLength="16.96" lengthAdjust="spacingAndGlyphs" font-style="italic">n</text>
<text x="833.01" y="2183.75" font-size="19.1" textLength="9.17" lengthAdjust="spacingAndGlyphs" font-style="italic">r</text>
<text x="0" y="0" transform="translate(579.8,1941.7) rotate(-90)" font-size="26.3" textLength="18.07" lengthAdjust="spacingAndGlyphs" font-style="italic">E</text>
<text x="0" y="0" transform="translate(584,1924.22) rotate(-90)" font-size="19.8" textLength="13.17" lengthAdjust="spacingAndGlyphs" font-style="italic">B</text>
<g clip-path="url(#c22)">
<g fill="#000000"><circle cx="1191.8" cy="1992" r="6.2"/><circle cx="1258.87" cy="1999.9" r="6.2"/><circle cx="1325.93" cy="1960.6" r="6.2"/><circle cx="1393" cy="1931.6" r="6.2"/><circle cx="1460.07" cy="1904.3" r="6.2"/><circle cx="1527.13" cy="1871.5" r="6.2"/><circle cx="1594.2" cy="1853.7" r="6.2"/></g>
<g fill="#ff0000"><rect x="1185.55" y="2024.55" width="12.5" height="12.5"/><rect x="1252.62" y="2029.45" width="12.5" height="12.5"/><rect x="1319.68" y="1986.85" width="12.5" height="12.5"/><rect x="1386.75" y="1954.85" width="12.5" height="12.5"/><rect x="1453.82" y="1925.35" width="12.5" height="12.5"/><rect x="1520.88" y="1890.45" width="12.5" height="12.5"/><rect x="1587.95" y="1867.85" width="12.5" height="12.5"/></g>
<g fill="#0000ff"><path d="M1191.8 1926.5L1197.3 1935.6L1191.8 1944.7L1186.3 1935.6Z"/><path d="M1258.87 1935.7L1264.37 1944.8L1258.87 1953.9L1253.37 1944.8Z"/><path d="M1325.93 1899.5L1331.43 1908.6L1325.93 1917.7L1320.43 1908.6Z"/><path d="M1393 1872.6L1398.5 1881.7L1393 1890.8L1387.5 1881.7Z"/><path d="M1460.07 1847L1465.57 1856.1L1460.07 1865.2L1454.57 1856.1Z"/><path d="M1527.13 1816.1L1532.63 1825.2L1527.13 1834.3L1521.63 1825.2Z"/><path d="M1594.2 1798.4L1599.7 1807.5L1594.2 1816.6L1588.7 1807.5Z"/></g>
</g>
<rect x="1191.8" y="1736.2" width="402.4" height="382.4" fill="none" stroke="#000" stroke-width="1.6" stroke-linejoin="miter" stroke-linecap="square"/>
<path d="M1191.8 2118.6V2125.2M1258.87 2118.6V2125.2M1325.93 2118.6V2125.2M1393 2118.6V2125.2M1460.07 2118.6V2125.2M1527.13 2118.6V2125.2M1594.2 2118.6V2125.2M1191.8 2118.6H1185.2M1191.8 2023H1185.2M1191.8 1927.4H1185.2M1191.8 1831.8H1185.2M1191.8 1736.2H1185.2" stroke="#000" stroke-width="1.6" fill="none"/>
<text x="1185.43" y="2148.5" font-size="26.4" textLength="12.01" lengthAdjust="spacingAndGlyphs">1</text>
<text x="1252.98" y="2148.5" font-size="26.4" textLength="12.01" lengthAdjust="spacingAndGlyphs">2</text>
<text x="1319.81" y="2148.5" font-size="26.4" textLength="12.01" lengthAdjust="spacingAndGlyphs">3</text>
<text x="1386.99" y="2148.5" font-size="26.4" textLength="12.01" lengthAdjust="spacingAndGlyphs">4</text>
<text x="1453.82" y="2148.5" font-size="26.4" textLength="12.01" lengthAdjust="spacingAndGlyphs">5</text>
<text x="1521.01" y="2148.5" font-size="26.4" textLength="12.01" lengthAdjust="spacingAndGlyphs">6</text>
<text x="1587.71" y="2148.5" font-size="26.4" textLength="12.01" lengthAdjust="spacingAndGlyphs">7</text>
<text x="1155.11" y="2128.1" font-size="26.4" textLength="24.47" lengthAdjust="spacingAndGlyphs">45</text>
<text x="1154.07" y="2032.5" font-size="26.4" textLength="25.56" lengthAdjust="spacingAndGlyphs">50</text>
<text x="1154.07" y="1936.9" font-size="26.4" textLength="25.56" lengthAdjust="spacingAndGlyphs">55</text>
<text x="1154.6" y="1841.3" font-size="26.4" textLength="25" lengthAdjust="spacingAndGlyphs">60</text>
<text x="1154.6" y="1745.7" font-size="26.4" textLength="25" lengthAdjust="spacingAndGlyphs">65</text>
<text x="1227.31" y="1725.85" font-size="33.2" textLength="57.18" lengthAdjust="spacingAndGlyphs">LLE</text>
<text x="1293.82" y="1725.85" font-size="33.2" textLength="43.09" lengthAdjust="spacingAndGlyphs">BG</text>
<text x="1346.94" y="1725.85" font-size="33.2" textLength="117.15" lengthAdjust="spacingAndGlyphs">Removal,</text>
<text x="1474.15" y="1725.85" font-size="33.2" textLength="14.81" lengthAdjust="spacingAndGlyphs" font-style="italic">k</text>
<text x="1497.84" y="1725.85" font-size="33.2" textLength="25.44" lengthAdjust="spacingAndGlyphs">=</text>
<text x="1529.74" y="1725.85" font-size="33.2" textLength="30.22" lengthAdjust="spacingAndGlyphs">30</text>
<text x="1379.59" y="2179.75" font-size="27.1" textLength="16.96" lengthAdjust="spacingAndGlyphs" font-style="italic">n</text>
<text x="1396.51" y="2183.75" font-size="19.1" textLength="9.17" lengthAdjust="spacingAndGlyphs" font-style="italic">r</text>
<text x="0" y="0" transform="translate(1143.3,1941.7) rotate(-90)" font-size="26.3" textLength="18.07" lengthAdjust="spacingAndGlyphs" font-style="italic">E</text>
<text x="0" y="0" transform="translate(1147.5,1924.22) rotate(-90)" font-size="19.8" textLength="13.17" lengthAdjust="spacingAndGlyphs" font-style="italic">B</text>
</g></svg>
</body></html>
